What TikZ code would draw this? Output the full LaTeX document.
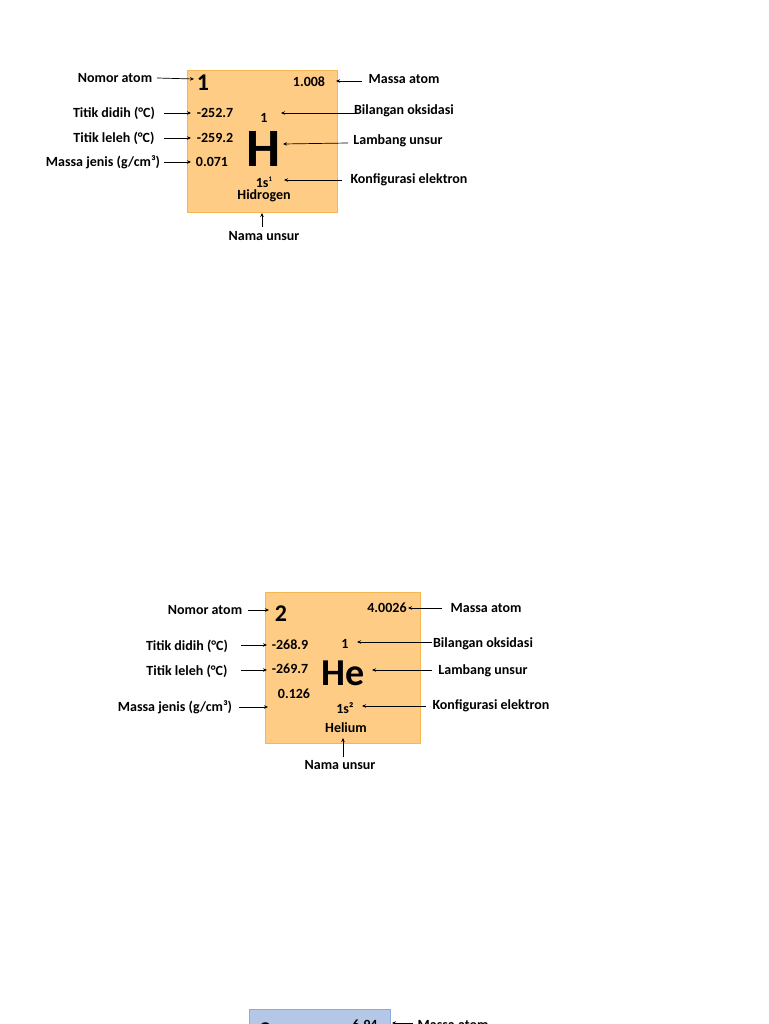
\documentclass[tikz,border=0pt]{standalone}
\usepackage{fontspec}
\setmainfont{Carlito}
\usetikzlibrary{arrows.meta}
\definecolor{orfill}{HTML}{FFCC85}
\definecolor{ordraw}{HTML}{F5B850}
\definecolor{blfill}{HTML}{B4C7E7}
\definecolor{bldraw}{HTML}{8FAADC}
\begin{document}
\begin{tikzpicture}[x=1pt,y=-1pt,
  lbl/.style={font=\fontsize{14}{16}\selectfont\bfseries,inner sep=0pt},
  val/.style={font=\fontsize{14}{16}\selectfont\bfseries,inner sep=0pt},
  big/.style={font=\fontsize{24}{26}\selectfont\bfseries,inner sep=0pt},
  arr/.style={-{Stealth[length=4pt,width=3.5pt]},line width=0.7pt}]
\useasboundingbox (0,0) rectangle (768,1024);
\clip (0,0) rectangle (768,1024);
\fill[white] (0,0) rectangle (768,1024);
% ===== Hydrogen
\draw[fill=orfill,draw=ordraw,line width=0.8pt] (187,70) rectangle (337,212);
\node[big] (hn) at (203,83) {1};
\node[val] (hm) at (309,82) {1.008};
\node[val] (hb) at (215,113) {-252.7};
\node[val] (hox) at (264,118) {1};
\node[val] (hl) at (215,138) {-259.2};
\node[inner sep=0pt,font=\fontsize{54}{56}\selectfont\bfseries] (hs) at (264,149) {H};
\node[val] (hd) at (212,162) {0.071};
\node[val] (hc) at (264,182) {1s\raisebox{0.45em}{\fontsize{7}{8}\selectfont 1}};
\node[val] (hname) at (264,196) {Hidrogen};
\node[lbl] (l1) at (115,78) {Nomor atom};
\node[lbl] (l2) at (404,79) {Massa atom};
\node[lbl] (l3) at (114,113) {Titik didih (°C)};
\node[lbl] (l4) at (404,111) {Bilangan oksidasi};
\node[lbl] (l5) at (114,138) {Titik leleh (°C)};
\node[lbl] (l6) at (398,141) {Lambang unsur};
\node[lbl] (l7) at (103,162) {Massa jenis (g/cm³)};
\node[lbl] (l8) at (409,180) {Konfigurasi elektron};
\node[lbl] (l9) at (264,236) {Nama unsur};
\draw[arr] (157,78) -- (194,79);
\draw[arr] (362,81) -- (336,81);
\draw[arr] (164,113) -- (191,113);
\draw[arr] (355,113) -- (281,113);
\draw[arr] (164,138) -- (191,138);
\draw[arr] (348,143) -- (283,144);
\draw[arr] (164,162) -- (191,162);
\draw[arr] (342,180) -- (284,180);
\draw[arr] (262,227) -- (262,213);
% ===== Helium
\draw[fill=orfill,draw=ordraw,line width=0.8pt] (265,592) rectangle (420,743);
\node[big] (en) at (281,614) {2};
\node[val] (em) at (387,608) {4.0026};
\node[val] (eb) at (290,645) {-268.9};
\node[val] (eox) at (345,644) {1};
\node[val] (el) at (290,669) {-269.7};
\node[inner sep=0pt,font=\fontsize{38}{40}\selectfont\bfseries] (es) at (343,673) {He};
\node[val] (ed) at (294,694) {0.126};
\node[val] (ec) at (345,708) {1s²};
\node[val] (ename) at (346,728) {Helium};
\node[lbl] (m1) at (205,610) {Nomor atom};
\node[lbl] (m2) at (486,608) {Massa atom};
\node[lbl] (m3) at (187,646) {Titik didih (°C)};
\node[lbl] (m4) at (483,644) {Bilangan oksidasi};
\node[lbl] (m5) at (187,671) {Titik leleh (°C)};
\node[lbl] (m6) at (483,671) {Lambang unsur};
\node[lbl] (m7) at (175,707) {Massa jenis (g/cm³)};
\node[lbl] (m8) at (491,706) {Konfigurasi elektron};
\node[lbl] (m9) at (340,765) {Nama unsur};
\draw[arr] (248,610) -- (269,610);
\draw[arr] (442,608) -- (408,608);
\draw[arr] (241,645) -- (267,645);
\draw[arr] (432,642) -- (357,642);
\draw[arr] (241,670) -- (267,670);
\draw[arr] (432,670) -- (372,670);
\draw[arr] (239,707) -- (268,707);
\draw[arr] (426,706) -- (362,706);
\draw[arr] (343,757) -- (343,738);
% ===== Lithium (cut)
\draw[fill=blfill,draw=bldraw,line width=0.8pt] (249,1009) rectangle (390,1060);
\node[big] (ln) at (265,1031) {3};
\node[val] (lm) at (365,1025) {6.94};
\node[lbl] (n2) at (453,1025) {Massa atom};
\node[lbl] (n1) at (173,1031) {Nomor atom};
\draw[arr] (413,1023) -- (392,1023);
\end{tikzpicture}
\end{document}
